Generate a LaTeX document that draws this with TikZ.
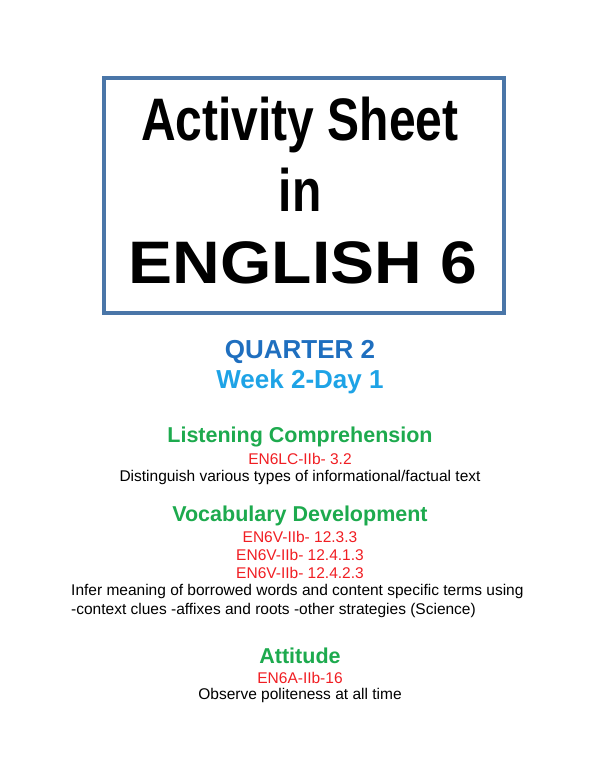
\documentclass[tikz,border=0pt]{standalone}
\usepackage{fontspec}
\setmainfont{Liberation Sans}
\newfontfamily\narrowf[FakeStretch=0.8]{Liberation Sans}
\newfontfamily\widef[FakeStretch=1.1]{Liberation Sans}
\definecolor{boxblue}{HTML}{4A76A8}
\definecolor{qblue}{HTML}{1F6FBF}
\definecolor{wblue}{HTML}{1EA3E6}
\definecolor{hgreen}{HTML}{1DAA4E}
\definecolor{cred}{HTML}{F01E23}
\begin{document}
\begin{tikzpicture}[x=1pt,y=1pt,
  head/.style={font=\bfseries\fontsize{21.5}{24}\selectfont,text=hgreen,anchor=center,inner sep=0},
  code/.style={font=\fontsize{15.5}{18}\selectfont,text=cred,anchor=center,inner sep=0},
  body/.style={font=\fontsize{15.5}{18}\selectfont,text=black,anchor=center,inner sep=0}]
\useasboundingbox (0,0) rectangle (600,-776);
\node[draw=boxblue,line width=4pt,minimum width=400pt,minimum height=235pt,inner sep=0] (box) at (304,-195.5) {};
\node[font=\narrowf\bfseries\fontsize{60}{64}\selectfont,inner sep=0] (t1) at (300,-125) {Activity Sheet};
\node[font=\narrowf\bfseries\fontsize{60}{64}\selectfont,inner sep=0] (t2) at (300,-190) {in};
\node[font=\widef\bfseries\fontsize{60}{64}\selectfont,inner sep=0] (t3) at (303,-263) {ENGLISH 6};
\node[font=\bfseries\fontsize{26}{28}\selectfont,text=qblue,inner sep=0] (q) at (300,-352) {QUARTER 2};
\node[font=\bfseries\fontsize{26}{28}\selectfont,text=wblue,inner sep=0] (w) at (300,-382) {Week 2-Day 1};
\node[head] (lc) at (300,-437) {Listening Comprehension};
\node[code] (lcc) at (300,-459) {EN6LC-IIb- 3.2};
\node[body] (lcb) at (300,-477) {Distinguish various types of informational/factual text};
\node[head] (vd) at (300,-516) {Vocabulary Development};
\node[code] (v1) at (300,-537) {EN6V-IIb- 12.3.3};
\node[code] (v2) at (300,-555) {EN6V-IIb- 12.4.1.3};
\node[code] (v3) at (300,-573) {EN6V-IIb- 12.4.2.3};
\node[body,anchor=west] (vb1) at (71,-591) {Infer meaning of borrowed words and content specific terms using};
\node[body,anchor=west] (vb2) at (71,-610) {-context clues -affixes and roots -other strategies (Science)};
\node[head] (at) at (300,-656) {Attitude};
\node[code] (atc) at (300,-678) {EN6A-IIb-16};
\node[body] (atb) at (300,-695) {Observe politeness at all time};
\end{tikzpicture}
\end{document}
